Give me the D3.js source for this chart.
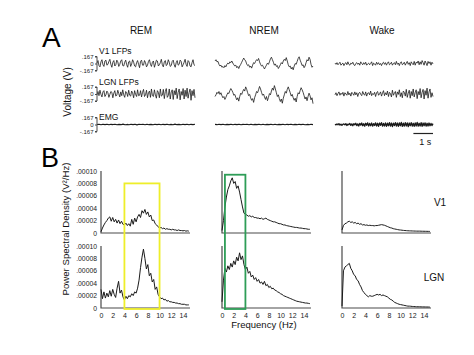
<!DOCTYPE html>
<html><head><meta charset="utf-8">
<script src="https://cdn.jsdelivr.net/npm/d3@7"></script>
<style>body{margin:0;background:#fff}svg{display:block;font-family:"Liberation Sans",Arial,sans-serif}</style>
</head><body><svg id="c" width="474" height="355"></svg>
<script>
// ---------- data ----------
const states = ["REM", "NREM", "Wake"];
const channels = ["V1 LFPs", "LGN LFPs", "EMG"];
const regions = ["V1", "LGN"];
const voltTicks = [167, 0, -167];              // mV
const voltTickLabels = [".167", "0", "-.167"];
const traceDuration = 5;                        // seconds shown per trace
const scaleBarSec = 1;

// LFP / EMG traces (mV), evenly sampled over traceDuration
const remV1 = [10,70,-50,-80,40,90,-30,-70,60,80,-40,-20,50,100,-20,-90,30,70,-60,-30,80,40,-70,-20,60,90,-50,-60,30,80,-30,-90,40,60,-70,-10,90,30,-60,-80,20,70,-20,-100,50,80,-40,-40,70,20,-80,-40,50,90,-20,-70,30,60,-90,-10,80,60,-60,-30,20,100,-30,-80,40,70,-50,-20,90,30,-70,-50,50,80,-30,-90,20,70,-40,-20,80,50,-80,-30,30,100,-20,-70,70,40,-60,-80,20,90,-30,-50];
const remLGN = [-20,60,-40,90,-10,-70,50,80,-60,-20,70,30,-80,-10,60,40,-90,20,80,-50,-30,90,10,-70,50,-40,100,-20,-80,60,30,-60,90,-30,-50,70,20,-90,80,-10,-60,100,-40,-30,80,-70,40,110,-60,-20,90,-90,30,70,-80,120,-40,-60,100,-20,-100,80,40,-90,120,-50,-30,110,-110,60,130,-80,-40,120,-120,50,100,-130,80,-20,140,-110,40,120,-140,60,-30,130,-120,90,-60,140,-100,30,120,-150,80,-40,110,-90];
const remEMG = [0,5,-5,8,-3,6,-8,4,-2,7,-6,3,-4,9,-7,2,-5,6,-3,8,-9,4,-1,5,-6,7,-4,3,-8,6,-2,5,-7,4,-3,8,-5,2,-6,9,-4,3,-7,5,-2,6,-8,4,-3,5];
const nremV1 = [60,90,40,50,-20,-60,-40,-90,-70,-100,-50,-80,-20,10,-10,40,20,60,10,-30,-60,-40,-100,-70,-120,-60,-20,30,80,130,90,60,-10,-50,-30,-90,-60,-110,-40,20,0,50,90,70,120,40,-20,-60,-40,-90,-130,-80,-40,10,-20,40,110,150,90,30,-40,-10,-70,-50,-120,-80,-30,20,-10,60,100,70,140,60,-30,-80,-60,-130,-90,-150,-60,0,-20,50,120,160,80,20,-50,-30,-100,-60,20,90,60,150,100,-20,-90,-60];
const nremLGN = [-60,-20,40,10,60,-10,30,-40,-90,-60,-130,-80,-20,30,10,80,130,90,40,-30,-10,-80,-140,-90,-170,-60,20,-10,60,110,70,170,110,30,-40,-10,-90,-150,-110,-200,-90,-20,60,30,100,180,120,40,-30,0,-70,-130,-60,-160,-80,10,-20,70,140,90,200,120,30,-60,-20,-110,-180,-120,-220,-100,-20,60,20,110,170,100,30,-50,-10,-90,-150,-100,-190,-60,30,0,80,150,100,40,-40,-120,-70,-160,-60,20,-40,-140,-90,-230];
const nremEMG = [3,-4,6,-2,5,-6,2,-3,7,-5,4,-2,6,-7,3,-1,5,-4,8,-6,2,-3,6,-5,4,-7,3,-2,5,-4,7,-6,2,-3,6,-5,4,-2,8,-6,3,-4,5,-3,6,-7,2,-4,5,-3];
const wakeV1 = [10,-20,20,-30,0,30,-40,-10,10,-50,0,20,-30,40,-20,-40,10,-10,30,-30,-50,0,20,-20,10,-40,40,0,-30,20,-20,30,-40,-10,10,-30,0,40,-50,10,-10,-40,30,-20,20,-30,0,-50,10,30,-20,20,-40,10,40,-30,-10,30,-40,0,20,-30,50,-20,10,-50,20,40,-30,-10,30,-40,10,50,-20,20,-50,40,0,-30,50,-40,30,10,60,-30,40,-20,70,20,-40,60,10,-50,50,0,40,-40,30,-10];
const wakeLGN = [-20,30,-40,10,50,-30,20,-10,40,-50,30,0,-30,60,-20,20,-50,40,10,-30,50,-20,30,-60,20,40,-10,-40,60,0,-30,50,-50,20,30,-20,70,-40,10,-10,40,-60,30,60,-30,0,50,-50,20,80,-40,30,-20,70,-60,40,10,-70,90,-30,20,60,-80,50,-10,100,-60,30,-90,70,40,-50,110,-80,20,90,-100,60,-40,120,-70,30,100,-110,60,-20,130,-90,40,110,-120,80,-30,140,-100,50,120,-80,30,-60];
const wakeEMG = [5,-10,15,-5,20,-15,10,-20,5,15,-10,20,-25,10,-5,25,-20,15,-30,20,-10,30,-25,15,-35,25,-15,35,-30,20,-40,30,-20,40,-35,25,-30,35,-40,20,-25,40,-35,30,-45,35,-20,45,-40,25,-35,40,-45,30,-30,45,-40,35,-50,30,-25,45,-40,35,-45,40,-30,50,-45,30,-40,45,-35,40,-50,35,-30,45,-40,30,-45,40,-35,50,-40,30,-35,45,-45,35,-30,40,-40,30,-35,35,-30,25,-25,20];

// Power spectra (units of 1e-5 V^2/Hz), sampled at freqs
const psdUnit = 1e-5;
const freqs = [0,0.25,0.5,0.75,1,1.25,1.5,1.75,2,2.25,2.5,2.75,3,3.25,3.5,3.75,4,4.25,4.5,4.75,5,5.25,5.5,5.75,6,6.25,6.5,6.75,7,7.25,7.5,7.75,8,8.25,8.5,8.75,9,9.25,9.5,9.75,10,10.25,10.5,10.75,11,11.25,11.5,11.75,12,12.25,12.5,12.75,13,13.25,13.5,13.75,14,14.25,14.5,14.75,15];
const psdRemV1 = [0.2,0.8,1.3,1.7,2.0,2.4,2.6,1.9,2.5,1.8,2.2,1.6,2.1,1.5,1.9,1.4,1.3,1.6,1.2,1.5,1.1,2.2,1.4,2.4,1.8,2.6,3.0,2.5,3.6,3.2,3.8,3.0,3.4,2.6,2.9,2.0,2.1,1.5,1.3,1.0,0.8,0.9,0.7,0.8,0.6,0.7,0.6,0.6,0.5,0.6,0.5,0.5,0.4,0.5,0.4,0.4,0.35,0.4,0.3,0.35,0.3];
const psdRemLGN = [3.0,1.5,2.6,1.6,2.4,1.8,2.8,1.9,3.0,2.2,1.7,3.2,4.3,2.4,2.9,1.8,1.3,1.9,1.5,2.0,1.8,2.3,2.0,2.6,2.4,3.2,4.5,6.5,8.2,9.5,8.0,6.3,7.0,5.2,5.6,4.2,4.6,3.0,3.4,2.2,1.8,1.5,1.6,1.3,1.4,1.1,1.2,1.0,1.0,0.9,0.9,0.8,0.8,0.7,0.7,0.6,0.6,0.6,0.5,0.5,0.5];
const psdNremV1 = [0.4,2.0,4.2,5.8,7.0,7.6,8.4,8.9,8.0,8.3,7.2,7.6,6.6,5.4,4.2,3.2,3.0,2.9,2.7,2.8,2.6,2.7,2.5,2.5,2.4,2.4,2.3,2.4,2.2,2.3,2.4,2.2,2.1,2.0,1.9,1.8,1.8,1.7,1.6,1.5,1.5,1.4,1.3,1.3,1.2,1.15,1.1,1.05,1.0,0.95,0.9,0.9,0.85,0.8,0.8,0.75,0.7,0.7,0.65,0.6,0.6];
const psdNremLGN = [1.0,4.5,6.4,5.8,6.8,6.2,7.2,6.6,7.6,7.0,8.2,7.6,8.9,7.8,8.4,7.0,6.2,6.6,5.6,5.9,5.0,5.3,4.6,4.9,4.3,4.6,4.0,4.2,3.8,4.3,3.6,3.8,3.3,3.5,3.1,3.2,2.9,2.8,2.6,2.5,2.3,2.2,2.0,1.9,1.8,1.7,1.6,1.5,1.4,1.3,1.2,1.1,1.05,1.0,0.95,0.9,0.85,0.8,0.8,0.75,0.7];
const psdWakeV1 = [0.5,1.2,1.5,1.6,1.8,1.9,1.7,1.8,1.6,1.7,1.5,1.6,1.4,1.5,1.3,1.35,1.25,1.3,1.2,1.25,1.2,1.2,1.15,1.2,1.2,1.25,1.3,1.35,1.3,1.25,1.15,1.05,0.95,0.85,0.8,0.7,0.65,0.6,0.55,0.5,0.48,0.45,0.42,0.4,0.38,0.36,0.35,0.34,0.33,0.32,0.31,0.3,0.3,0.3,0.29,0.28,0.28,0.27,0.27,0.26,0.26];
const psdWakeLGN = [0.3,6.0,6.6,6.8,7.0,7.2,6.4,6.0,5.4,5.2,4.6,4.4,3.8,3.4,2.8,2.5,2.2,2.0,1.8,2.0,1.9,1.9,2.0,2.1,2.2,2.1,2.2,2.0,2.1,2.0,1.9,1.8,1.6,1.4,1.3,1.1,0.9,0.8,0.7,0.6,0.55,0.5,0.45,0.4,0.35,0.3,0.3,0.28,0.25,0.24,0.22,0.2,0.2,0.2,0.18,0.18,0.17,0.17,0.16,0.16,0.15];

const freqTicks = [0, 2, 4, 6, 8, 10, 12, 14];
const psdTicks = [0, 2, 4, 6, 8, 10];
const psdTickLabels = ["0", ".00002", ".00004", ".00006", ".00008", ".00010"];
// highlighted bands: [fLow, fHigh, topPower]
const thetaBand = [4, 10, 8];
const deltaBand = [0.5, 4, 9.4];

const traces = {
  REM:  [remV1, remLGN, remEMG],
  NREM: [nremV1, nremLGN, nremEMG],
  Wake: [wakeV1, wakeLGN, wakeEMG]
};
const spectra = {
  REM:  [psdRemV1, psdRemLGN],
  NREM: [psdNremV1, psdNremLGN],
  Wake: [psdWakeV1, psdWakeLGN]
};

// ---------- layout ----------
const svg = d3.select("#c");
const ink = "#1a1a1a", axisCol = "#4a4a4a";
const traceX0 = [97, 215, 335], traceW = 98;
const chanZero = [63.5, 94, 124.5], chanHalf = 7;
const titleX = [141, 264, 382];
const specX0 = [101, 222, 342], specW = 89;
const rowBase = [233, 308], rowH = 62;

// ---------- Panel A ----------
svg.append("text").attr("x", 42).attr("y", 47).attr("font-size", 28).attr("fill", "#000").text("A");
states.forEach((s, si) => {
  svg.append("text").attr("x", titleX[si]).attr("y", 34).attr("text-anchor", "middle")
    .attr("font-size", 10).attr("fill", "#111").text(s);
  const x = d3.scaleLinear().domain([0, traceDuration]).range([traceX0[si], traceX0[si] + traceW]);
  traces[s].forEach((vals, ci) => {
    const y = d3.scaleLinear().domain([-167, 167]).range([chanZero[ci] + chanHalf, chanZero[ci] - chanHalf]);
    const n = vals.length;
    const line = d3.line().x((d, i) => x(i * traceDuration / (n - 1))).y(d => y(d));
    svg.append("path").attr("d", line(vals)).attr("fill", "none")
      .attr("stroke", ink).attr("stroke-width", ci === 2 ? (s === "Wake" ? 1.3 : 1.1) : 0.8)
      .attr("stroke-linejoin", "round");
    if (si === 0) {
      const ax = d3.axisLeft(y).tickValues(voltTicks).tickFormat((d, i) => voltTickLabels[i])
        .tickSize(2).tickPadding(1.5);
      const g = svg.append("g").attr("transform", `translate(${traceX0[0]},0)`).call(ax);
      g.select(".domain").attr("stroke", axisCol).attr("d", `M-2,${y(167)}H0V${y(-167)}H-2`);
      g.selectAll("line").attr("stroke", axisCol);
      g.selectAll("text").attr("font-size", 6).attr("fill", "#222").attr("font-family", "Liberation Sans, Arial, sans-serif");
    }
  });
});
[[54, "V1 LFPs"], [85, "LGN LFPs"], [120, "EMG"]].forEach(([yy, t], i) => {
  svg.append("text").attr("x", 99).attr("y", yy).attr("font-size", 8.5).attr("fill", "#111").text(channels[i]);
});
svg.append("text").attr("transform", "translate(71,92) rotate(-90)").attr("text-anchor", "middle")
  .attr("font-size", 10).attr("fill", "#111").text("Voltage (V)");
// scale bar
{
  const x = d3.scaleLinear().domain([0, traceDuration]).range([traceX0[2], traceX0[2] + traceW]);
  const xEnd = x(traceDuration), xStart = xEnd - (x(scaleBarSec) - x(0));
  svg.append("line").attr("x1", xStart).attr("x2", xEnd).attr("y1", 133.5).attr("y2", 133.5)
    .attr("stroke", "#222").attr("stroke-width", 1.2);
  svg.append("text").attr("x", (xStart + xEnd) / 2 + 2).attr("y", 145).attr("text-anchor", "middle")
    .attr("font-size", 9).attr("fill", "#111").text(scaleBarSec + " s");
}

// ---------- Panel B ----------
svg.append("text").attr("x", 41).attr("y", 167).attr("font-size", 27).attr("fill", "#000").text("B");
const yRow = rowBase.map(b => d3.scaleLinear().domain([0, 10]).range([b, b - rowH]));
states.forEach((s, si) => {
  const x = d3.scaleLinear().domain([0, 15.2]).range([specX0[si], specX0[si] + specW]);
  spectra[s].forEach((vals, ri) => {
    const y = yRow[ri];
    svg.append("path").attr("d", `M${x(0)},${y(10)}V${y(0)}H${x(15.2)}`)
      .attr("fill", "none").attr("stroke", axisCol).attr("stroke-width", 1.2);
    const line = d3.line().x((d, i) => x(freqs[i])).y(d => y(d));
    svg.append("path").attr("d", line(vals)).attr("fill", "none").attr("stroke", ink)
      .attr("stroke-width", 1).attr("stroke-linejoin", "round");
    if (si === 0) {
      const ax = d3.axisLeft(y).tickValues(psdTicks).tickFormat((d, i) => psdTickLabels[i]).tickSize(0).tickPadding(4);
      const g = svg.append("g").attr("transform", `translate(${x(0)},0)`).call(ax);
      g.select(".domain").remove();
      g.selectAll("text").attr("font-size", 6.8).attr("fill", "#222").attr("font-family", "Liberation Sans, Arial, sans-serif");
    }
    if (ri === 1) {
      const ax = d3.axisBottom(x).tickValues(freqTicks).tickSize(0).tickPadding(5);
      const g = svg.append("g").attr("transform", `translate(0,${y(0)})`).call(ax);
      g.select(".domain").remove();
      g.selectAll("text").attr("font-size", 7).attr("fill", "#222").attr("font-family", "Liberation Sans, Arial, sans-serif");
    }
  });
  const band = s === "REM" ? thetaBand : s === "NREM" ? deltaBand : null;
  if (band) {
    svg.append("rect").attr("x", x(band[0])).attr("y", yRow[0](band[2]))
      .attr("width", x(band[1]) - x(band[0])).attr("height", rowBase[1] + 1 - yRow[0](band[2]))
      .attr("fill", "none").attr("stroke", s === "REM" ? "#eeee2a" : "#2e9d57").attr("stroke-width", 1.8);
  }
});
svg.append("text").attr("x", 440).attr("y", 205.5).attr("text-anchor", "middle").attr("font-size", 10).attr("fill", "#111").text(regions[0]);
svg.append("text").attr("x", 434).attr("y", 281).attr("text-anchor", "middle").attr("font-size", 10).attr("fill", "#111").text(regions[1]);
svg.append("text").attr("transform", "translate(69,229) rotate(-90)").attr("text-anchor", "middle")
  .attr("font-size", 9.6).attr("fill", "#111").text("Power Spectral Density (V\u00B2/Hz)");
svg.append("text").attr("x", 264).attr("y", 328).attr("text-anchor", "middle")
  .attr("font-size", 9.5).attr("fill", "#111").text("Frequency (Hz)");
</script></body></html>
